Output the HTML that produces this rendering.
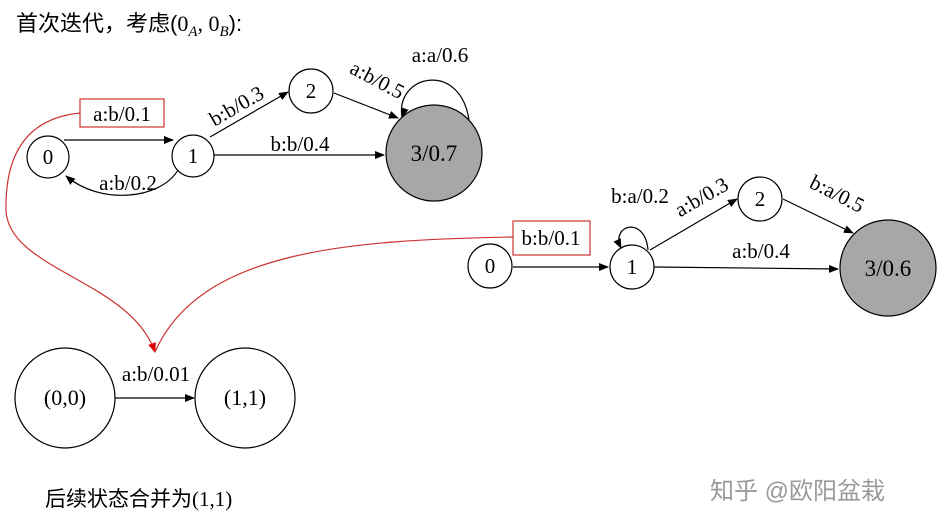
<!DOCTYPE html>
<html><head><meta charset="utf-8"><style>
body{margin:0;background:#fff;}
svg{display:block;}
text{font-family:"Liberation Serif","Noto Serif CJK SC",serif;fill:#000;}
</style></head><body>
<svg width="937" height="527" viewBox="0 0 937 527" xmlns="http://www.w3.org/2000/svg">
<defs>
<marker id="a" markerWidth="10" markerHeight="8" refX="9" refY="4" orient="auto" markerUnits="userSpaceOnUse"><path d="M0,0 L10,4 L0,8 z" fill="#000"/></marker>
<marker id="r" markerWidth="10" markerHeight="8" refX="9" refY="4" orient="auto" markerUnits="userSpaceOnUse"><path d="M0,0 L10,4 L0,8 z" fill="#d00"/></marker>
</defs>
<text x="16" y="31" font-size="22" style='font-family:"Liberation Sans","Noto Sans CJK SC",sans-serif'>首次迭代，考虑(<tspan style='font-family:"Liberation Serif",serif'>0</tspan><tspan font-size="15" dy="5" font-style="italic" style='font-family:"Liberation Serif",serif'>A</tspan><tspan dy="-5" style='font-family:"Liberation Serif",serif'>, 0</tspan><tspan font-size="15" dy="5" font-style="italic" style='font-family:"Liberation Serif",serif'>B</tspan><tspan dy="-5">):</tspan></text>
<g fill="none" stroke="#000" stroke-width="1.2">
<circle cx="48" cy="157" r="21" fill="#fff"/>
<circle cx="193" cy="156" r="21" fill="#fff"/>
<circle cx="311" cy="91" r="22" fill="#fff"/>
<circle cx="434" cy="153" r="48" fill="#a8a6a6"/>
<line x1="64" y1="140" x2="173" y2="140" marker-end="url(#a)"/>
<line x1="214" y1="155" x2="384" y2="155" marker-end="url(#a)"/>
<line x1="210" y1="137" x2="288" y2="92" marker-end="url(#a)"/>
<line x1="334" y1="93" x2="398" y2="118" marker-end="url(#a)"/>
<path d="M178,170 C160,200 100,205 66,176" marker-end="url(#a)"/>
<path d="M402,117 C395,75 460,60 469,120"/>
<path d="M404,111 L402,117" marker-end="url(#a)"/>
<circle cx="490" cy="266" r="22" fill="#fff"/>
<circle cx="632" cy="267" r="22" fill="#fff"/>
<circle cx="760" cy="199" r="22" fill="#fff"/>
<circle cx="888" cy="268" r="48" fill="#a8a6a6"/>
<line x1="513" y1="267" x2="608" y2="267" marker-end="url(#a)"/>
<line x1="654" y1="267" x2="838" y2="269" marker-end="url(#a)"/>
<line x1="650" y1="250" x2="737" y2="199" marker-end="url(#a)"/>
<line x1="783" y1="199" x2="853" y2="233" marker-end="url(#a)"/>
<path d="M648,250 C645,215 610,225 621,248" marker-end="url(#a)"/>
<circle cx="65" cy="398" r="50" fill="#fff"/>
<circle cx="245" cy="398" r="50" fill="#fff"/>
<line x1="115" y1="398" x2="194" y2="398" marker-end="url(#a)"/>
</g>
<g stroke="#c33" stroke-width="1.2" fill="none">
<rect x="80" y="99" width="84" height="28" fill="#fff"/>
<rect x="513" y="221" width="77" height="34" fill="#fff"/>
<path d="M80,113 C30,118 5,150 6,210 C8,270 130,280 155,352" marker-end="url(#r)"/>
<path d="M513,237 C350,240 200,250 155,352"/>
</g>
<g font-size="21">
<text x="48" y="164" text-anchor="middle">0</text>
<text x="193" y="163" text-anchor="middle">1</text>
<text x="311" y="98" text-anchor="middle">2</text>
<text x="434" y="161" text-anchor="middle" font-size="23">3/0.7</text>
<text x="122" y="121" text-anchor="middle">a:b/0.1</text>
<text x="128" y="190" text-anchor="middle">a:b/0.2</text>
<text x="300" y="151" text-anchor="middle">b:b/0.4</text>
<text x="440" y="62" text-anchor="middle">a:a/0.6</text>
<text transform="translate(240,112) rotate(-30)" text-anchor="middle">b:b/0.3</text>
<text transform="translate(374,86) rotate(28)" text-anchor="middle">a:b/0.5</text>
<text x="490" y="273" text-anchor="middle">0</text>
<text x="632" y="274" text-anchor="middle">1</text>
<text x="760" y="206" text-anchor="middle">2</text>
<text x="888" y="276" text-anchor="middle" font-size="23">3/0.6</text>
<text x="551" y="245" text-anchor="middle">b:b/0.1</text>
<text x="640" y="203" text-anchor="middle">b:a/0.2</text>
<text x="761" y="258" text-anchor="middle">a:b/0.4</text>
<text transform="translate(705,203) rotate(-30)" text-anchor="middle">a:b/0.3</text>
<text transform="translate(834,200) rotate(27)" text-anchor="middle">b:a/0.5</text>
<text x="65" y="405" text-anchor="middle" font-size="22">(0,0)</text>
<text x="245" y="405" text-anchor="middle" font-size="22">(1,1)</text>
<text x="156" y="381" text-anchor="middle">a:b/0.01</text>
</g>
<text x="45" y="506" font-size="21" style='font-family:"Liberation Sans","Noto Sans CJK SC",sans-serif'>后续状态合并为<tspan style='font-family:"Liberation Serif",serif'>(1,1)</tspan></text>
<text x="710" y="499" font-size="24" style='font-family:"Liberation Sans","Noto Sans CJK SC",sans-serif;fill:#9a9a9a'>知乎 @欧阳盆栽</text>
</svg>
</body></html>
